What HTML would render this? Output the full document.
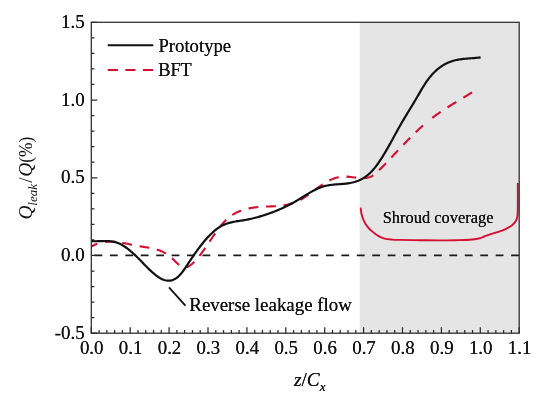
<!DOCTYPE html><html><head><meta charset="utf-8">
<style>html,body{margin:0;padding:0;background:#fff;}svg{display:block;}text{font-family:"Liberation Serif","DejaVu Serif",serif;fill:#111;filter:drop-shadow(0.28px 0 0 #111);}</style></head><body>
<svg width="550" height="406" viewBox="0 0 550 406">
<rect x="0" y="0" width="550" height="406" fill="#fff"/>
<rect x="359.7" y="22.3" width="159.5" height="310.9" fill="#e5e5e5"/>
<line x1="91.3" y1="255.4" x2="519.2" y2="255.4" stroke="#1a1a1a" stroke-width="1.8" stroke-dasharray="7.8 7.63" stroke-dashoffset="12.23"/>
<path d="M91.30 246.52 L92.30 245.97 L93.30 245.46 L94.30 244.99 L95.30 244.55 L96.30 244.15 L97.30 243.78 L98.30 243.45 L99.30 243.15 L100.30 242.87 L101.30 242.63 L102.30 242.42 L103.30 242.24 L104.30 242.08 L105.30 241.96 L106.30 241.85 L107.30 241.77 L108.30 241.72 L109.30 241.68 L110.30 241.67 L111.30 241.68 L112.30 241.71 L113.30 241.75 L114.30 241.82 L115.30 241.90 L116.30 241.99 L117.30 242.10 L118.30 242.23 L119.30 242.36 L120.30 242.51 L121.30 242.67 L122.30 242.84 L123.30 243.02 L124.30 243.20 L125.30 243.39 L126.30 243.59 L127.30 243.79 L128.30 244.00 L129.30 244.21 L130.30 244.42 L131.30 244.63 L132.30 244.84 L133.30 245.05 L134.30 245.26 L135.30 245.46 L136.30 245.66 L137.30 245.85 L138.30 246.04 L139.30 246.23 L140.30 246.40 L141.30 246.56 L142.30 246.72 L143.30 246.88 L144.30 247.03 L145.30 247.17 L146.30 247.32 L147.30 247.48 L148.30 247.64 L149.30 247.80 L150.30 247.98 L151.30 248.17 L152.30 248.37 L153.30 248.59 L154.30 248.82 L155.30 249.08 L156.30 249.36 L157.30 249.66 L158.30 249.99 L159.30 250.35 L160.30 250.74 L161.30 251.16 L162.30 251.62 L163.30 252.11 L164.30 252.64 L165.30 253.22 L166.30 253.84 L167.30 254.50 L168.30 255.21 L169.30 255.97 L170.30 256.79 L171.30 257.65 L172.30 258.57 L173.30 259.52 L174.30 260.50 L175.30 261.47 L176.30 262.42 L177.30 263.34 L178.30 264.21 L179.30 265.01 L180.30 265.73 L181.30 266.34 L182.30 266.84 L183.30 267.19 L184.30 267.39 L185.30 267.42 L186.30 267.27 L187.30 266.96 L188.30 266.50 L189.30 265.93 L190.30 265.26 L191.30 264.52 L192.30 263.69 L193.30 262.79 L194.30 261.82 L195.30 260.79 L196.30 259.70 L197.30 258.55 L198.30 257.34 L199.30 256.09 L200.30 254.80 L201.30 253.47 L202.30 252.10 L203.30 250.71 L204.30 249.28 L205.30 247.84 L206.30 246.38 L207.30 244.91 L208.30 243.42 L209.30 241.94 L210.30 240.45 L211.30 238.97 L212.30 237.50 L213.30 236.03 L214.30 234.59 L215.30 233.16 L216.30 231.75 L217.30 230.37 L218.30 229.02 L219.30 227.70 L220.30 226.41 L221.30 225.17 L222.30 223.97 L223.30 222.82 L224.30 221.72 L225.30 220.67 L226.30 219.68 L227.30 218.75 L228.30 217.88 L229.30 217.06 L230.30 216.30 L231.30 215.59 L232.30 214.92 L233.30 214.30 L234.30 213.71 L235.30 213.17 L236.30 212.66 L237.30 212.19 L238.30 211.75 L239.30 211.33 L240.30 210.94 L241.30 210.58 L242.30 210.23 L243.30 209.91 L244.30 209.60 L245.30 209.31 L246.30 209.05 L247.30 208.80 L248.30 208.56 L249.30 208.35 L250.30 208.15 L251.30 207.96 L252.30 207.79 L253.30 207.63 L254.30 207.49 L255.30 207.36 L256.30 207.24 L257.30 207.14 L258.30 207.04 L259.30 206.96 L260.30 206.88 L261.30 206.81 L262.30 206.75 L263.30 206.70 L264.30 206.65 L265.30 206.61 L266.30 206.57 L267.30 206.53 L268.30 206.50 L269.30 206.46 L270.30 206.42 L271.30 206.38 L272.30 206.34 L273.30 206.30 L274.30 206.25 L275.30 206.19 L276.30 206.12 L277.30 206.05 L278.30 205.97 L279.30 205.88 L280.30 205.78 L281.30 205.66 L282.30 205.54 L283.30 205.40 L284.30 205.24 L285.30 205.06 L286.30 204.87 L287.30 204.66 L288.30 204.43 L289.30 204.18 L290.30 203.91 L291.30 203.62 L292.30 203.31 L293.30 202.97 L294.30 202.60 L295.30 202.22 L296.30 201.80 L297.30 201.36 L298.30 200.89 L299.30 200.40 L300.30 199.87 L301.30 199.32 L302.30 198.74 L303.30 198.12 L304.30 197.48 L305.30 196.82 L306.30 196.14 L307.30 195.44 L308.30 194.73 L309.30 194.00 L310.30 193.27 L311.30 192.53 L312.30 191.79 L313.30 191.05 L314.30 190.30 L315.30 189.57 L316.30 188.84 L317.30 188.12 L318.30 187.40 L319.30 186.70 L320.30 186.01 L321.30 185.33 L322.30 184.67 L323.30 184.02 L324.30 183.39 L325.30 182.78 L326.30 182.19 L327.30 181.62 L328.30 181.07 L329.30 180.55 L330.30 180.06 L331.30 179.59 L332.30 179.15 L333.30 178.74 L334.30 178.36 L335.30 178.02 L336.30 177.71 L337.30 177.43 L338.30 177.19 L339.30 177.00 L340.30 176.84 L341.30 176.72 L342.30 176.63 L343.30 176.58 L344.30 176.57 L345.30 176.58 L346.30 176.61 L347.30 176.67 L348.30 176.74 L349.30 176.83 L350.30 176.94 L351.30 177.05 L352.30 177.17 L353.30 177.30 L354.30 177.42 L355.30 177.55 L356.30 177.67 L357.30 177.78 L358.30 177.88 L359.30 177.97 L360.30 178.04 L361.30 178.09 L362.30 178.12 L363.30 178.12 L364.30 178.09 L365.30 178.02 L366.30 177.91 L367.30 177.74 L368.30 177.52 L369.30 177.23 L370.30 176.87 L371.30 176.44 L372.30 175.93 L373.30 175.32 L374.30 174.63 L375.30 173.84 L376.30 172.97 L377.30 172.05 L378.30 171.08 L379.30 170.07 L380.30 169.06 L381.30 168.03 L382.30 167.00 L383.30 165.97 L384.30 164.93 L385.30 163.88 L386.30 162.83 L387.30 161.78 L388.30 160.72 L389.30 159.66 L390.30 158.60 L391.30 157.54 L392.30 156.47 L393.30 155.40 L394.30 154.34 L395.30 153.27 L396.30 152.20 L397.30 151.14 L398.30 150.07 L399.30 149.01 L400.30 147.95 L401.30 146.89 L402.30 145.83 L403.30 144.78 L404.30 143.73 L405.30 142.69 L406.30 141.65 L407.30 140.62 L408.30 139.59 L409.30 138.57 L410.30 137.56 L411.30 136.55 L412.30 135.55 L413.30 134.56 L414.30 133.58 L415.30 132.61 L416.30 131.65 L417.30 130.69 L418.30 129.75 L419.30 128.82 L420.30 127.90 L421.30 126.99 L422.30 126.10 L423.30 125.22 L424.30 124.35 L425.30 123.50 L426.30 122.65" fill="none" stroke="#d40f30" stroke-width="2.1" stroke-dasharray="9.9 7.7" stroke-dashoffset="3.3"/>
<path d="M432.30 117.88 L433.30 117.13 L434.30 116.38 L435.30 115.65 L436.30 114.93 L437.30 114.21 L438.30 113.51 L439.30 112.81 L440.30 112.12 L441.30 111.44 L442.30 110.77 L443.30 110.11 L444.30 109.45 L445.30 108.80 L446.30 108.15 L447.30 107.51 L448.30 106.88 L449.30 106.25 L450.30 105.62 L451.30 105.00 L452.30 104.38 L453.30 103.77 L454.30 103.16 L455.30 102.55 L456.30 101.94 L457.30 101.33 L458.30 100.73 L459.30 100.12 L460.30 99.52 L461.30 98.92 L462.30 98.31 L463.30 97.71 L464.30 97.10 L465.30 96.50 L466.30 95.89 L467.30 95.28 L468.30 94.66 L469.30 94.05 L470.30 93.42 L471.30 92.80 L472.30 92.17 L472.90 91.79" fill="none" stroke="#d40f30" stroke-width="2.1" stroke-dasharray="10.3 8.2"/>
<path d="M91.30 241.06 L92.30 241.13 L93.30 241.19 L94.30 241.22 L95.30 241.23 L96.30 241.23 L97.30 241.22 L98.30 241.19 L99.30 241.16 L100.30 241.13 L101.30 241.10 L102.30 241.07 L103.30 241.04 L104.30 241.02 L105.30 241.01 L106.30 241.02 L107.30 241.04 L108.30 241.08 L109.30 241.14 L110.30 241.23 L111.30 241.34 L112.30 241.48 L113.30 241.66 L114.30 241.87 L115.30 242.12 L116.30 242.42 L117.30 242.75 L118.30 243.14 L119.30 243.57 L120.30 244.04 L121.30 244.56 L122.30 245.12 L123.30 245.72 L124.30 246.35 L125.30 247.02 L126.30 247.73 L127.30 248.47 L128.30 249.24 L129.30 250.04 L130.30 250.87 L131.30 251.72 L132.30 252.60 L133.30 253.50 L134.30 254.43 L135.30 255.37 L136.30 256.33 L137.30 257.30 L138.30 258.29 L139.30 259.29 L140.30 260.31 L141.30 261.33 L142.30 262.36 L143.30 263.39 L144.30 264.41 L145.30 265.44 L146.30 266.46 L147.30 267.46 L148.30 268.46 L149.30 269.43 L150.30 270.39 L151.30 271.32 L152.30 272.23 L153.30 273.11 L154.30 273.96 L155.30 274.77 L156.30 275.54 L157.30 276.28 L158.30 276.96 L159.30 277.60 L160.30 278.19 L161.30 278.73 L162.30 279.21 L163.30 279.62 L164.30 279.98 L165.30 280.27 L166.30 280.49 L167.30 280.63 L168.30 280.70 L169.30 280.69 L170.30 280.60 L171.30 280.43 L172.30 280.16 L173.30 279.81 L174.30 279.36 L175.30 278.81 L176.30 278.16 L177.30 277.41 L178.30 276.55 L179.30 275.58 L180.30 274.50 L181.30 273.32 L182.30 272.06 L183.30 270.72 L184.30 269.32 L185.30 267.87 L186.30 266.38 L187.30 264.87 L188.30 263.35 L189.30 261.82 L190.30 260.31 L191.30 258.82 L192.30 257.35 L193.30 255.89 L194.30 254.45 L195.30 253.03 L196.30 251.63 L197.30 250.25 L198.30 248.90 L199.30 247.56 L200.30 246.25 L201.30 244.96 L202.30 243.70 L203.30 242.47 L204.30 241.26 L205.30 240.08 L206.30 238.93 L207.30 237.82 L208.30 236.73 L209.30 235.68 L210.30 234.67 L211.30 233.69 L212.30 232.74 L213.30 231.84 L214.30 230.97 L215.30 230.14 L216.30 229.36 L217.30 228.61 L218.30 227.91 L219.30 227.26 L220.30 226.65 L221.30 226.08 L222.30 225.56 L223.30 225.07 L224.30 224.63 L225.30 224.21 L226.30 223.83 L227.30 223.49 L228.30 223.17 L229.30 222.87 L230.30 222.60 L231.30 222.35 L232.30 222.12 L233.30 221.91 L234.30 221.72 L235.30 221.54 L236.30 221.37 L237.30 221.20 L238.30 221.05 L239.30 220.90 L240.30 220.75 L241.30 220.60 L242.30 220.45 L243.30 220.29 L244.30 220.13 L245.30 219.96 L246.30 219.78 L247.30 219.59 L248.30 219.39 L249.30 219.18 L250.30 218.97 L251.30 218.75 L252.30 218.51 L253.30 218.28 L254.30 218.03 L255.30 217.77 L256.30 217.51 L257.30 217.24 L258.30 216.96 L259.30 216.68 L260.30 216.38 L261.30 216.08 L262.30 215.78 L263.30 215.46 L264.30 215.14 L265.30 214.82 L266.30 214.48 L267.30 214.15 L268.30 213.80 L269.30 213.45 L270.30 213.09 L271.30 212.73 L272.30 212.35 L273.30 211.97 L274.30 211.59 L275.30 211.19 L276.30 210.79 L277.30 210.39 L278.30 209.97 L279.30 209.54 L280.30 209.11 L281.30 208.67 L282.30 208.22 L283.30 207.76 L284.30 207.30 L285.30 206.82 L286.30 206.34 L287.30 205.84 L288.30 205.34 L289.30 204.83 L290.30 204.30 L291.30 203.77 L292.30 203.23 L293.30 202.68 L294.30 202.11 L295.30 201.54 L296.30 200.95 L297.30 200.36 L298.30 199.76 L299.30 199.15 L300.30 198.53 L301.30 197.91 L302.30 197.29 L303.30 196.67 L304.30 196.04 L305.30 195.42 L306.30 194.81 L307.30 194.20 L308.30 193.59 L309.30 193.00 L310.30 192.41 L311.30 191.84 L312.30 191.28 L313.30 190.74 L314.30 190.21 L315.30 189.70 L316.30 189.21 L317.30 188.74 L318.30 188.29 L319.30 187.87 L320.30 187.48 L321.30 187.11 L322.30 186.77 L323.30 186.46 L324.30 186.18 L325.30 185.93 L326.30 185.70 L327.30 185.49 L328.30 185.31 L329.30 185.15 L330.30 185.00 L331.30 184.87 L332.30 184.75 L333.30 184.64 L334.30 184.55 L335.30 184.46 L336.30 184.38 L337.30 184.31 L338.30 184.24 L339.30 184.17 L340.30 184.10 L341.30 184.03 L342.30 183.95 L343.30 183.87 L344.30 183.78 L345.30 183.67 L346.30 183.56 L347.30 183.44 L348.30 183.30 L349.30 183.14 L350.30 182.96 L351.30 182.77 L352.30 182.55 L353.30 182.31 L354.30 182.04 L355.30 181.74 L356.30 181.41 L357.30 181.06 L358.30 180.67 L359.30 180.24 L360.30 179.78 L361.30 179.27 L362.30 178.73 L363.30 178.15 L364.30 177.52 L365.30 176.84 L366.30 176.12 L367.30 175.35 L368.30 174.52 L369.30 173.65 L370.30 172.71 L371.30 171.72 L372.30 170.68 L373.30 169.57 L374.30 168.40 L375.30 167.16 L376.30 165.87 L377.30 164.52 L378.30 163.12 L379.30 161.67 L380.30 160.18 L381.30 158.64 L382.30 157.06 L383.30 155.44 L384.30 153.79 L385.30 152.10 L386.30 150.39 L387.30 148.66 L388.30 146.90 L389.30 145.13 L390.30 143.34 L391.30 141.53 L392.30 139.72 L393.30 137.91 L394.30 136.09 L395.30 134.27 L396.30 132.45 L397.30 130.64 L398.30 128.84 L399.30 127.06 L400.30 125.29 L401.30 123.53 L402.30 121.81 L403.30 120.10 L404.30 118.41 L405.30 116.74 L406.30 115.09 L407.30 113.44 L408.30 111.80 L409.30 110.17 L410.30 108.53 L411.30 106.89 L412.30 105.25 L413.30 103.59 L414.30 101.93 L415.30 100.24 L416.30 98.54 L417.30 96.82 L418.30 95.08 L419.30 93.34 L420.30 91.61 L421.30 89.89 L422.30 88.22 L423.30 86.58 L424.30 85.00 L425.30 83.47 L426.30 81.99 L427.30 80.57 L428.30 79.21 L429.30 77.90 L430.30 76.65 L431.30 75.46 L432.30 74.33 L433.30 73.25 L434.30 72.22 L435.30 71.24 L436.30 70.32 L437.30 69.44 L438.30 68.60 L439.30 67.82 L440.30 67.07 L441.30 66.37 L442.30 65.72 L443.30 65.10 L444.30 64.52 L445.30 63.97 L446.30 63.47 L447.30 62.99 L448.30 62.55 L449.30 62.15 L450.30 61.77 L451.30 61.42 L452.30 61.09 L453.30 60.80 L454.30 60.53 L455.30 60.28 L456.30 60.05 L457.30 59.84 L458.30 59.65 L459.30 59.48 L460.30 59.32 L461.30 59.18 L462.30 59.06 L463.30 58.94 L464.30 58.84 L465.30 58.74 L466.30 58.65 L467.30 58.57 L468.30 58.49 L469.30 58.41 L470.30 58.34 L471.30 58.27 L472.30 58.20 L473.30 58.12 L474.30 58.04 L475.30 57.96 L476.30 57.86 L477.30 57.77 L478.30 57.66 L479.30 57.54 L480.30 57.41 L480.60 57.37" fill="none" stroke="#111" stroke-width="2.2" stroke-linejoin="round"/>
<path d="M360.60 207.60 C360.77 208.70 361.05 212.00 361.60 214.20 C362.15 216.40 362.90 218.70 363.90 220.80 C364.90 222.90 366.13 224.95 367.60 226.80 C369.07 228.65 370.87 230.35 372.70 231.90 C374.53 233.45 376.63 234.98 378.60 236.10 C380.57 237.22 382.28 238.02 384.50 238.60 C386.72 239.18 389.43 239.38 391.90 239.60 C394.37 239.82 394.62 239.80 399.30 239.90 C403.98 240.00 413.22 240.12 420.00 240.20 C426.78 240.28 434.20 240.40 440.00 240.40 C445.80 240.40 449.88 240.32 454.80 240.20 C459.72 240.08 465.32 240.03 469.50 239.70 C473.68 239.37 477.43 238.73 479.90 238.20 C482.37 237.67 482.33 237.23 484.30 236.50 C486.27 235.77 489.23 234.62 491.70 233.80 C494.17 232.98 496.63 232.47 499.10 231.60 C501.57 230.73 504.28 229.72 506.50 228.60 C508.72 227.48 510.80 226.25 512.40 224.90 C514.00 223.55 515.25 222.10 516.10 220.50 C516.95 218.90 517.22 217.88 517.50 215.30 C517.78 212.72 517.75 210.37 517.80 205.00 C517.85 199.63 517.80 186.75 517.80 183.10" fill="none" stroke="#d40f30" stroke-width="1.9"/>
<rect x="91.3" y="22.3" width="427.9" height="310.9" fill="none" stroke="#2a2a2a" stroke-width="1.25"/>
<path d="M91.30 333.20V327.20M99.08 333.20V330.10M106.86 333.20V330.10M114.64 333.20V330.10M122.42 333.20V330.10M130.20 333.20V327.20M137.98 333.20V330.10M145.76 333.20V330.10M153.54 333.20V330.10M161.32 333.20V330.10M169.10 333.20V327.20M176.88 333.20V330.10M184.66 333.20V330.10M192.44 333.20V330.10M200.22 333.20V330.10M208.00 333.20V327.20M215.78 333.20V330.10M223.56 333.20V330.10M231.34 333.20V330.10M239.12 333.20V330.10M246.90 333.20V327.20M254.68 333.20V330.10M262.46 333.20V330.10M270.24 333.20V330.10M278.02 333.20V330.10M285.80 333.20V327.20M293.58 333.20V330.10M301.36 333.20V330.10M309.14 333.20V330.10M316.92 333.20V330.10M324.70 333.20V327.20M332.48 333.20V330.10M340.26 333.20V330.10M348.04 333.20V330.10M355.82 333.20V330.10M363.60 333.20V327.20M371.38 333.20V330.10M379.16 333.20V330.10M386.94 333.20V330.10M394.72 333.20V330.10M402.50 333.20V327.20M410.28 333.20V330.10M418.06 333.20V330.10M425.84 333.20V330.10M433.62 333.20V330.10M441.40 333.20V327.20M449.18 333.20V330.10M456.96 333.20V330.10M464.74 333.20V330.10M472.52 333.20V330.10M480.30 333.20V327.20M488.08 333.20V330.10M495.86 333.20V330.10M503.64 333.20V330.10M511.42 333.20V330.10M519.20 333.20V327.20M91.30 333.20H97.30M91.30 317.65H94.40M91.30 302.11H94.40M91.30 286.56H94.40M91.30 271.02H94.40M91.30 255.47H97.30M91.30 239.93H94.40M91.30 224.38H94.40M91.30 208.84H94.40M91.30 193.29H94.40M91.30 177.75H97.30M91.30 162.20H94.40M91.30 146.66H94.40M91.30 131.12H94.40M91.30 115.57H94.40M91.30 100.03H97.30M91.30 84.48H94.40M91.30 68.94H94.40M91.30 53.39H94.40M91.30 37.84H94.40M91.30 22.30H97.30" fill="none" stroke="#2a2a2a" stroke-width="1.25"/>
<text x="79.9" y="353.6" font-size="19.8" textLength="23.6" lengthAdjust="spacingAndGlyphs">0.0</text>
<text x="118.8" y="353.6" font-size="19.8" textLength="23.6" lengthAdjust="spacingAndGlyphs">0.1</text>
<text x="157.7" y="353.6" font-size="19.8" textLength="23.6" lengthAdjust="spacingAndGlyphs">0.2</text>
<text x="196.6" y="353.6" font-size="19.8" textLength="23.6" lengthAdjust="spacingAndGlyphs">0.3</text>
<text x="235.5" y="353.6" font-size="19.8" textLength="23.6" lengthAdjust="spacingAndGlyphs">0.4</text>
<text x="274.4" y="353.6" font-size="19.8" textLength="23.6" lengthAdjust="spacingAndGlyphs">0.5</text>
<text x="313.3" y="353.6" font-size="19.8" textLength="23.6" lengthAdjust="spacingAndGlyphs">0.6</text>
<text x="352.2" y="353.6" font-size="19.8" textLength="23.6" lengthAdjust="spacingAndGlyphs">0.7</text>
<text x="391.1" y="353.6" font-size="19.8" textLength="23.6" lengthAdjust="spacingAndGlyphs">0.8</text>
<text x="430.0" y="353.6" font-size="19.8" textLength="23.6" lengthAdjust="spacingAndGlyphs">0.9</text>
<text x="468.9" y="353.6" font-size="19.8" textLength="23.6" lengthAdjust="spacingAndGlyphs">1.0</text>
<text x="507.8" y="353.6" font-size="19.8" textLength="23.6" lengthAdjust="spacingAndGlyphs">1.1</text>
<text x="54.7" y="338.7" font-size="19.8" textLength="29.9" lengthAdjust="spacingAndGlyphs">-0.5</text>
<text x="61.0" y="261.0" font-size="19.8" textLength="23.6" lengthAdjust="spacingAndGlyphs">0.0</text>
<text x="61.0" y="183.2" font-size="19.8" textLength="23.6" lengthAdjust="spacingAndGlyphs">0.5</text>
<text x="61.0" y="105.5" font-size="19.8" textLength="23.6" lengthAdjust="spacingAndGlyphs">1.0</text>
<text x="61.0" y="27.8" font-size="19.8" textLength="23.6" lengthAdjust="spacingAndGlyphs">1.5</text>
<line x1="107.7" y1="45.2" x2="153.3" y2="45.2" stroke="#111" stroke-width="2"/>
<line x1="107.7" y1="69.9" x2="153.3" y2="69.9" stroke="#d40f30" stroke-width="2" stroke-dasharray="10.2 7.4"/>
<text x="158.4" y="51.7" font-size="19.5" textLength="72.8" lengthAdjust="spacingAndGlyphs">Prototype</text>
<text x="158.2" y="76.4" font-size="19.5" textLength="33.6" lengthAdjust="spacingAndGlyphs">BFT</text>
<text x="382.7" y="223" font-size="17.3" textLength="110.9" lengthAdjust="spacingAndGlyphs">Shroud coverage</text>
<text x="189.3" y="311" font-size="19" textLength="162.6" lengthAdjust="spacingAndGlyphs">Reverse leakage flow</text>
<line x1="169" y1="287.4" x2="185.4" y2="305.7" stroke="#111" stroke-width="1.8"/>
<text x="293.9" y="385.6" font-size="19.3"><tspan font-style="italic">z</tspan>/<tspan font-style="italic">C</tspan><tspan font-style="italic" font-size="13" dy="5.3">x</tspan></text>
<text transform="translate(31.8,219.6) rotate(-90)" font-size="19.3" style="filter:none"><tspan font-style="italic">Q</tspan><tspan font-style="italic" font-size="13" dy="5.2">leak</tspan><tspan dy="-5.2" dx="1.3">/</tspan><tspan font-style="italic" dx="0.6">Q</tspan></text>
<text transform="translate(31.8,162.7) rotate(-90)" font-size="19.3" style="filter:none" textLength="26.1" lengthAdjust="spacingAndGlyphs">(%)</text>
</svg></body></html>
